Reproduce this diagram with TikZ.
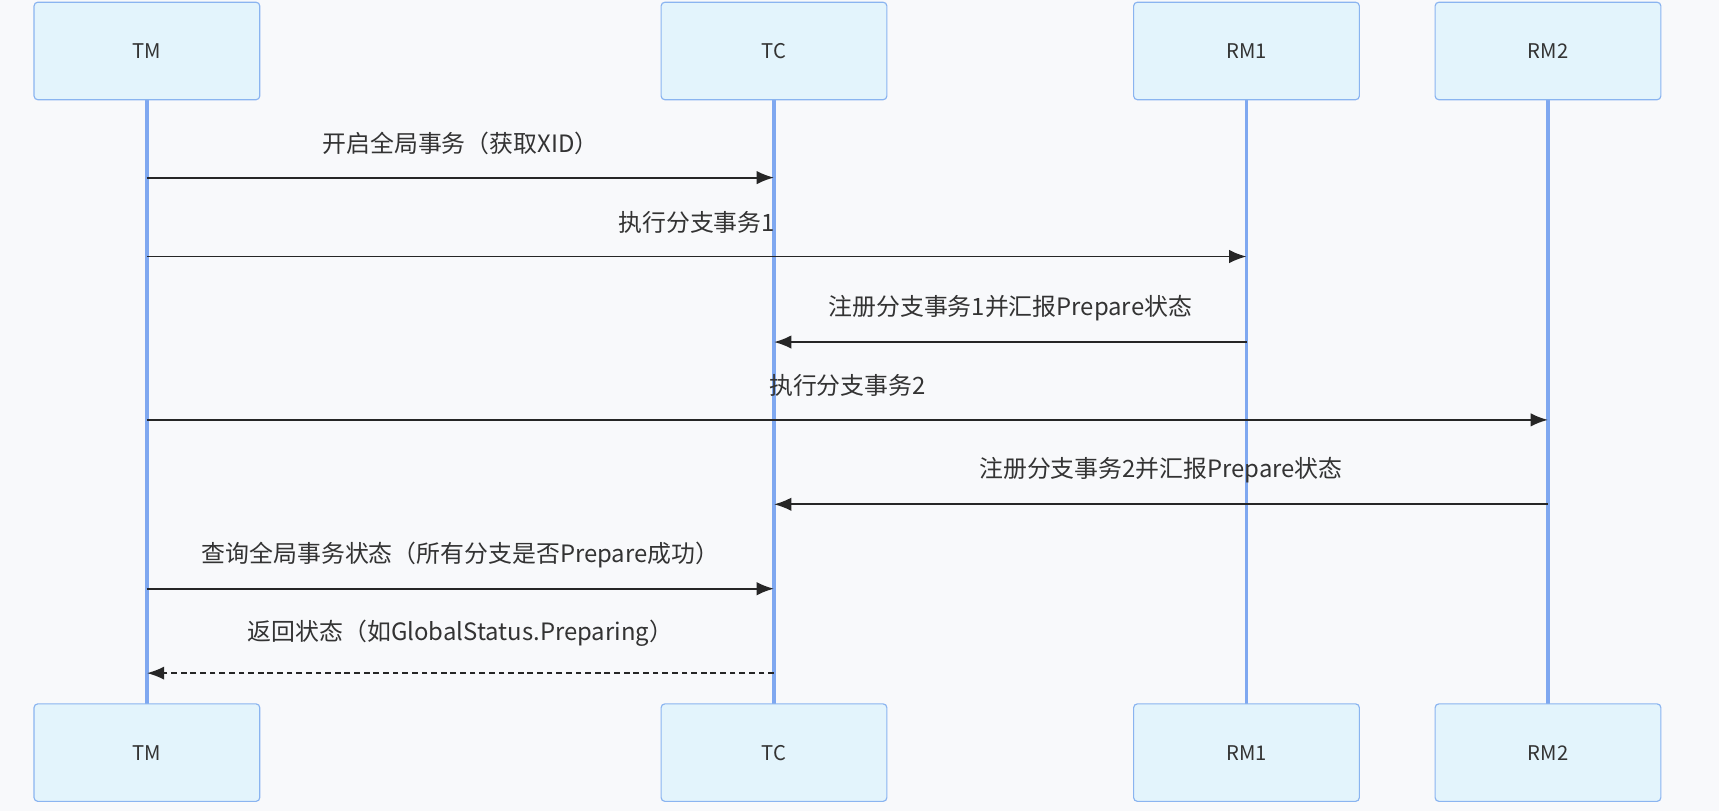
\documentclass[tikz,border=0pt]{standalone}
\usepackage{fontspec}
\setmainfont{Noto Sans CJK SC}
\usetikzlibrary{arrows.meta,calc}
\definecolor{bg}{HTML}{F8F9FB}
\definecolor{boxf}{HTML}{E3F4FC}
\definecolor{boxd}{HTML}{8AB4F0}
\definecolor{life}{HTML}{7FA8F0}
\definecolor{txt}{HTML}{333333}
\begin{document}
\begin{tikzpicture}[x=0.02cm,y=-0.02cm,
  actor/.style={draw=boxd,fill=boxf,rounded corners=2pt,minimum width=4.12cm,minimum height=1.78cm,font=\fontsize{10.5}{12}\selectfont,text=txt,line width=0.6pt},
  lifeline/.style={life,line width=2pt},
  msg/.style={draw=black!85,line width=1pt,-{Latex[length=9pt,width=7pt]}},
  lbl/.style={font=\fontsize{12.4}{14}\selectfont,text=txt}]
\fill[bg] (0,0) rectangle (1568,740);
\useasboundingbox (0,0) rectangle (1568,740);
\foreach \n/\x/\t in {tm/134/TM,tc/706/TC,ra/1137/RM1,rb/1412/RM2}{
  \draw[lifeline] (\x,91) -- (\x,642);
  \node[actor] (\n t) at (\x,46.5) {\t};
  \node[actor] (\n b) at (\x,686.5) {\t};
  \coordinate (\n) at (\x,0);
}
\foreach \y/\a/\b/\l in {
 162/tm/tc/{开启全局事务（获取XID）},
 234/tm/ra/{执行分支事务1},
 312/ra/tc/{注册分支事务1并汇报Prepare状态},
 383/tm/rb/{执行分支事务2},
 460/rb/tc/{注册分支事务2并汇报Prepare状态},
 537/tm/tc/{查询全局事务状态（所有分支是否Prepare成功）}}{
  \coordinate (s) at ([yshift=-\y*0.02cm]\a);
  \coordinate (e) at ([yshift=-\y*0.02cm]\b);
  \draw[msg] (s) -- (e);
  \node[lbl] at ($(s)!0.5!(e)+(0,-31)$) {\l};
}
\coordinate (s7) at ([yshift=-614*0.02cm]tc);
\coordinate (e7) at ([yshift=-614*0.02cm]tm);
\draw[msg,dash pattern=on 3pt off 2pt] (s7) -- (e7);
\node[lbl] at ($(s7)!0.5!(e7)+(0,-36)$) {返回状态（如GlobalStatus.Preparing）};
\end{tikzpicture}
\end{document}
